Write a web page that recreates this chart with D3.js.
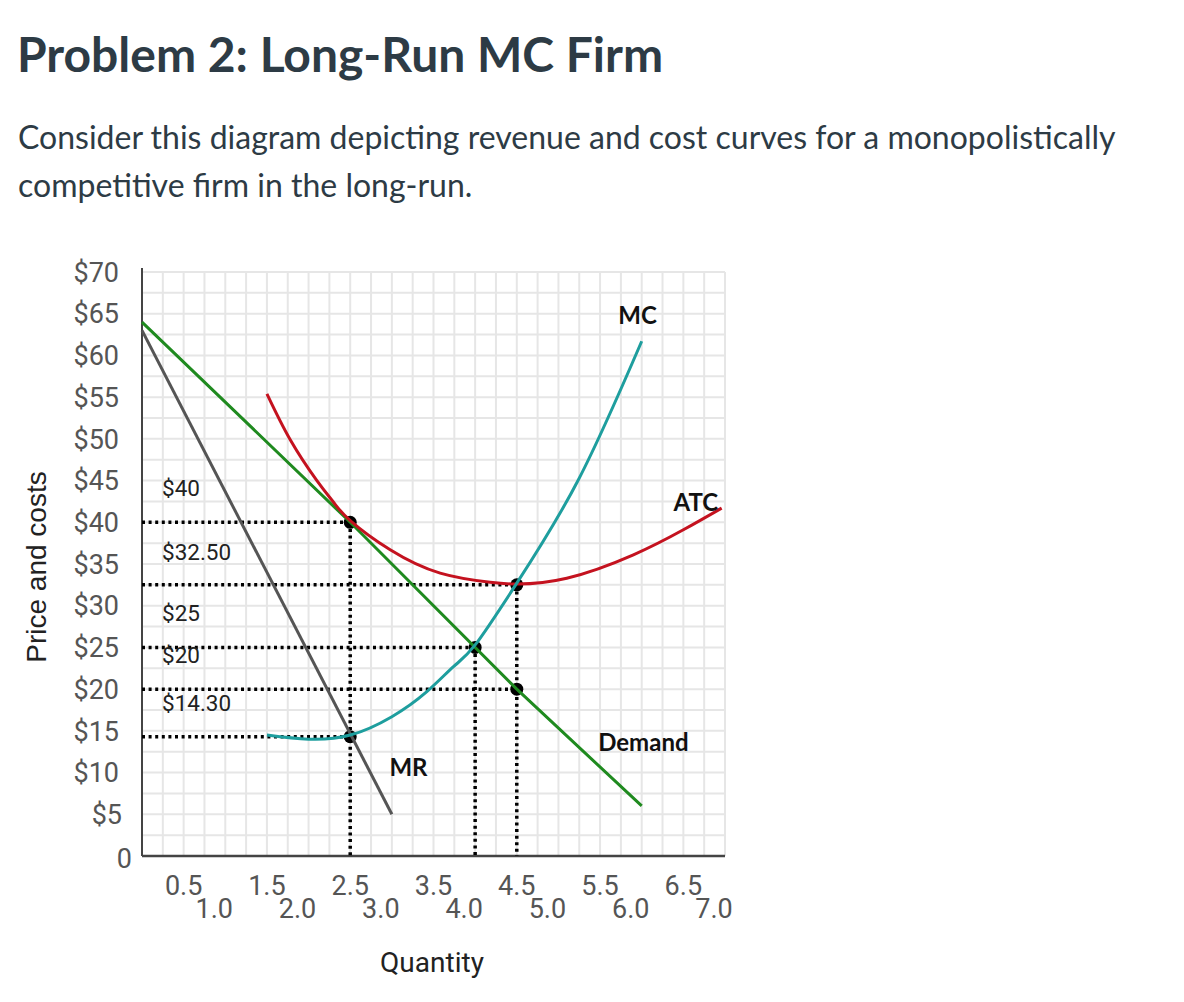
<!DOCTYPE html>
<html>
<head>
<meta charset="utf-8">
<script src="https://cdn.jsdelivr.net/npm/d3@7"></script>
<style>
  body { margin: 0; background: #fff; }
</style>
</head>
<body>
<script>
// curve data: [quantity, price]
var demandPts = [[0, 64], [2.5, 40], [4.5, 20], [6, 6]];
var mrPts = [[0, 63], [3, 5]];
var mcPts = [[1.5, 14.5], [2.0, 14.0], [2.5, 14.5], [3.0, 16.7], [3.42, 19.7], [3.74, 22.7], [4.0, 25.3], [4.5, 32.7], [5.24, 45.1], [6.0, 61.7]];
var atcPts = [[1.5, 55.4], [1.78, 49.9], [2.1, 45.0], [2.3, 42.4], [2.5, 40.2], [2.98, 36.7], [3.58, 33.9], [4.18, 32.8], [4.5, 32.6], [5.1, 33.3], [5.9, 36.1], [6.5, 39.1], [6.96, 41.7]];

// marked points and dotted guides
var keyPoints = [[2.5, 40], [4.5, 32.5], [4.0, 25], [4.5, 20], [2.5, 14.3]];
var priceLabels = ["$40", "$32.50", "$25", "$20", "$14.30"];
var priceLabelY = [44.1, 36.5, 29.1, 24.1, 18.3];

var yTicks = [5, 10, 15, 20, 25, 30, 35, 40, 45, 50, 55, 60, 65, 70];
var xHalfTicks = [0.5, 1.5, 2.5, 3.5, 4.5, 5.5, 6.5];
var xWholeTicks = [1, 2, 3, 4, 5, 6, 7];

var svg = d3.select("body").append("svg")
    .attr("width", 1184)
    .attr("height", 1002);

// heading text
svg.append("text")
    .attr("x", 17)
    .attr("y", 72)
    .attr("font-family", "Lato")
    .attr("font-weight", "bold")
    .attr("font-size", 48)
    .attr("fill", "#2d3b45")
    .text("Problem 2: Long-Run MC Firm");

svg.append("text")
    .attr("x", 18)
    .attr("y", 149)
    .attr("font-family", "Lato")
    .attr("font-size", 32)
    .attr("fill", "#2d3b45")
    .text("Consider this diagram depicting revenue and cost curves for a monopolistically");

svg.append("text")
    .attr("x", 18)
    .attr("y", 197)
    .attr("font-family", "Lato")
    .attr("font-size", 32)
    .attr("fill", "#2d3b45")
    .text("competitive firm in the long-run.");

var x = d3.scaleLinear().domain([0, 7]).range([142, 725]);
var y = d3.scaleLinear().domain([0, 70]).range([856, 272]);

var g = svg.append("g");

// grid
g.selectAll(".vgrid")
    .data(d3.range(1, 29).map(function(i) { return i * 0.25; }))
  .enter().append("line")
    .attr("x1", function(d) { return x(d); })
    .attr("x2", function(d) { return x(d); })
    .attr("y1", y(0))
    .attr("y2", y(70))
    .attr("stroke", "#e6e6e6")
    .attr("stroke-width", 2);

g.selectAll(".hgrid")
    .data(d3.range(1, 29).map(function(i) { return i * 2.5; }))
  .enter().append("line")
    .attr("x1", x(0))
    .attr("x2", x(7))
    .attr("y1", function(d) { return y(d); })
    .attr("y2", function(d) { return y(d); })
    .attr("stroke", "#e6e6e6")
    .attr("stroke-width", 2);

// axes lines
g.append("line")
    .attr("x1", x(0)).attr("x2", x(0))
    .attr("y1", y(70) - 4).attr("y2", y(0))
    .attr("stroke", "#444").attr("stroke-width", 2);
g.append("line")
    .attr("x1", x(0)).attr("x2", x(7))
    .attr("y1", y(0)).attr("y2", y(0))
    .attr("stroke", "#444").attr("stroke-width", 2.5);

// y tick labels
g.selectAll(".ylab")
    .data(yTicks)
  .enter().append("text")
    .attr("x", function(d) { return d < 10 ? 122 : 119; })
    .attr("y", function(d) { return y(d); })
    .attr("dy", "0.36em")
    .attr("text-anchor", "end")
    .attr("font-family", "Roboto")
    .attr("font-size", 27)
    .attr("fill", "#555")
    .text(function(d) { return "$" + d; });

g.append("text")
    .attr("x", 132).attr("y", y(0) + 2)
    .attr("dy", "0.36em")
    .attr("text-anchor", "end")
    .attr("font-family", "Roboto")
    .attr("font-size", 27)
    .attr("fill", "#555")
    .text("0");

// x tick labels (two staggered rows)
g.selectAll(".xhalf")
    .data(xHalfTicks)
  .enter().append("text")
    .attr("x", function(d) { return x(d); })
    .attr("y", 895)
    .attr("text-anchor", "middle")
    .attr("font-family", "Roboto")
    .attr("font-size", 27)
    .attr("fill", "#555")
    .text(function(d) { return d3.format(".1f")(d); });

g.selectAll(".xwhole")
    .data(xWholeTicks)
  .enter().append("text")
    .attr("x", function(d) { return x(d) - 11; })
    .attr("y", 918)
    .attr("text-anchor", "middle")
    .attr("font-family", "Roboto")
    .attr("font-size", 27)
    .attr("fill", "#555")
    .text(function(d) { return d3.format(".1f")(d); });

// axis titles
svg.append("text")
    .attr("transform", "translate(46,567) rotate(-90)")
    .attr("text-anchor", "middle")
    .attr("font-family", "Liberation Sans")
    .attr("font-size", 28)
    .attr("fill", "#222")
    .text("Price and costs");

svg.append("text")
    .attr("x", 432)
    .attr("y", 972)
    .attr("text-anchor", "middle")
    .attr("font-family", "Roboto")
    .attr("font-size", 28)
    .attr("fill", "#222")
    .text("Quantity");

// dotted guides
g.selectAll(".hdot")
    .data(keyPoints)
  .enter().append("line")
    .attr("x1", x(0))
    .attr("x2", function(d) { return x(d[0]); })
    .attr("y1", function(d) { return y(d[1]); })
    .attr("y2", function(d) { return y(d[1]); })
    .attr("stroke", "#000")
    .attr("stroke-width", 3.5)
    .attr("stroke-dasharray", "3,3.6");

g.selectAll(".vdot")
    .data([keyPoints[0], keyPoints[1], keyPoints[2]])
  .enter().append("line")
    .attr("x1", function(d) { return x(d[0]); })
    .attr("x2", function(d) { return x(d[0]); })
    .attr("y1", function(d) { return y(d[1]); })
    .attr("y2", y(0))
    .attr("stroke", "#000")
    .attr("stroke-width", 3.5)
    .attr("stroke-dasharray", "3,3.6");

// price labels inside the plot
g.selectAll(".plab")
    .data(priceLabels)
  .enter().append("text")
    .attr("x", 162)
    .attr("y", function(d, i) { return y(priceLabelY[i]); })
    .attr("dy", "0.36em")
    .attr("font-family", "Roboto")
    .attr("font-size", 22.5)
    .attr("fill", "#222")
    .text(function(d) { return d; });

// points
g.selectAll(".pt")
    .data(keyPoints)
  .enter().append("circle")
    .attr("cx", function(d) { return x(d[0]); })
    .attr("cy", function(d) { return y(d[1]); })
    .attr("r", 6.5)
    .attr("fill", "#000");

// curves
var line = d3.line()
    .x(function(d) { return x(d[0]); })
    .y(function(d) { return y(d[1]); });
var smooth = d3.line()
    .x(function(d) { return x(d[0]); })
    .y(function(d) { return y(d[1]); })
    .curve(d3.curveNatural);

g.append("path").attr("d", line(mrPts))
    .attr("fill", "none").attr("stroke", "#555").attr("stroke-width", 3);
g.append("path").attr("d", line(demandPts))
    .attr("fill", "none").attr("stroke", "#1f8a1f").attr("stroke-width", 3);
g.append("path").attr("d", smooth(atcPts))
    .attr("fill", "none").attr("stroke", "#c4121f").attr("stroke-width", 3);
g.append("path").attr("d", smooth(mcPts))
    .attr("fill", "none").attr("stroke", "#1e9e9e").attr("stroke-width", 3);

// curve labels
var curveLabels = [
  {t: "MC", q: 5.95, p: 64.8},
  {t: "ATC", q: 6.65, p: 42.4},
  {t: "Demand", q: 6.02, p: 13.6},
  {t: "MR", q: 3.2, p: 10.6}
];
g.selectAll(".clab")
    .data(curveLabels)
  .enter().append("text")
    .attr("x", function(d) { return x(d.q); })
    .attr("y", function(d) { return y(d.p); })
    .attr("dy", "0.36em")
    .attr("text-anchor", "middle")
    .attr("font-family", "Lato")
    .attr("font-weight", "bold")
    .attr("font-size", 24)
    .attr("fill", "#111")
    .text(function(d) { return d.t; });
</script>
</body>
</html>
